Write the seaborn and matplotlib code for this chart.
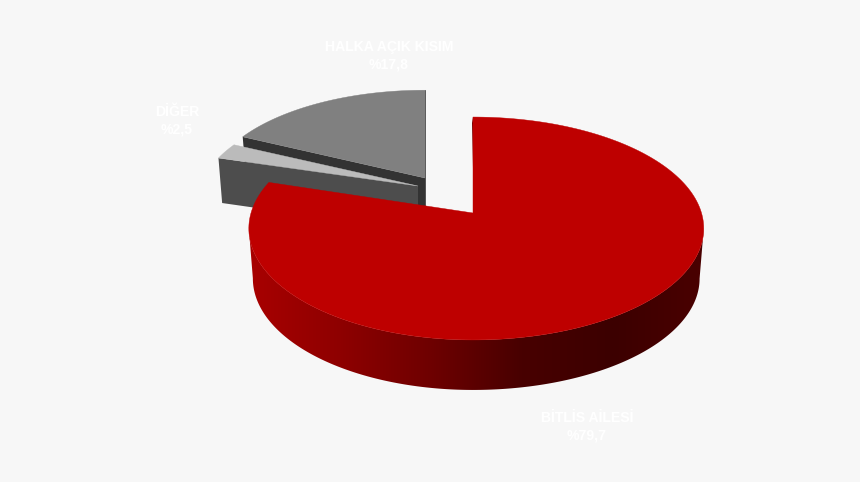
import numpy as np
import matplotlib
matplotlib.use("Agg")
import matplotlib.pyplot as plt
from matplotlib.colors import ListedColormap
from matplotlib.patches import Polygon
import seaborn as sns

# ---- data ----
labels = ["BİTLİS AİLESİ", "DİĞER", "HALKA AÇIK KISIM"]
values = [79.7, 2.5, 17.8]
value_labels = ["%79,7", "%2,5", "%17,8"]

BG = "#F7F7F7"
sns.set_theme(style="white", rc={"figure.facecolor": BG, "axes.facecolor": BG})
plt.rcParams["font.family"] = ["Liberation Sans", "DejaVu Sans"]

fig = plt.figure(figsize=(8.6, 4.82), dpi=100, facecolor=BG)
ax = fig.add_axes([0, 0, 1, 1])
ax.set_xlim(0, 860)
ax.set_ylim(482, 0)
ax.axis("off")

K = 0.139  # perspective strength


def project(theta, radius, apex, a_left, a_right, b):
    """Project polar angle (clockwise from the far side) to the page."""
    X = radius * np.sin(theta)
    Y = radius * np.cos(theta)
    w = 1 + K * Y
    a = np.where(X < 0, a_left, a_right)
    return apex[0] + a * X / w, apex[1] - b * Y / w


def slice_top(t0, t1, **g):
    t = np.linspace(t0, t1, 200)
    x, y = project(t, 1.0, **g)
    return np.column_stack([np.r_[g["apex"][0], x], np.r_[g["apex"][1], y]])


def pts(t, g):
    x, y = project(np.asarray(t, float), 1.0, **g)
    return np.column_stack([x, y])


def shifted(g, dy, scale, dx=0):
    return dict(apex=(g["apex"][0] + dx, g["apex"][1] + dy),
                a_left=g["a_left"] * scale, a_right=g["a_right"] * scale, b=g["b"])


# cumulative angles, clockwise from the top
edges = np.radians(np.r_[0, np.cumsum(values)] * 3.6)
red_t0, red_t1 = edges[0], edges[1]
dig_t0, dig_t1 = edges[1], edges[2]
hal_t0, hal_t1 = edges[2], edges[3]

# ---- HALKA AÇIK KISIM ----
g_h = dict(apex=(425, 178), a_left=215, a_right=215, b=100)
gb_h = shifted(g_h, 45, 0.98)
h0, hb0 = pts([hal_t0], g_h)[0], pts([hal_t0], gb_h)[0]
ax.add_patch(Polygon([g_h["apex"], h0, hb0, gb_h["apex"]], fc="#333333", ec="none", zorder=2))
ax.add_patch(Polygon([g_h["apex"], pts([hal_t1], g_h)[0], pts([hal_t1], gb_h)[0], gb_h["apex"]],
                     fc="#555555", ec="#555555", lw=0.6, zorder=2))
ax.add_patch(Polygon(slice_top(hal_t0, hal_t1, **g_h), fc="#808080", ec="#808080", lw=0.3, zorder=3))

# ---- DİĞER ----
g_d = dict(apex=(418, 186), a_left=217, a_right=217, b=100)
gb_d = dict(apex=(418, 231), a_left=213, a_right=213, b=100)
d0, db0 = pts([dig_t0], g_d)[0], pts([dig_t0], gb_d)[0]
ax.add_patch(Polygon([g_d["apex"], d0, db0, gb_d["apex"]], fc="#4D4D4D", ec="none", zorder=4))
ax.add_patch(Polygon(slice_top(dig_t0, dig_t1, **g_d), fc="#BBBBBB", ec="#BBBBBB", lw=0.3, zorder=5))

# ---- BİTLİS AİLESİ ----
g_r = dict(apex=(473, 213), a_left=222, a_right=228.5, b=109.3)
gb_r = shifted(g_r, 50, 0.982)
ramp = sns.blend_palette(["#A80000", "#8E0000", "#6E0000", "#480000", "#3C0000", "#4A0000"], n_colors=256)
t = np.linspace(red_t0, red_t1, 800)
top, bot = pts(t, g_r), pts(t, gb_r)
xmin, xmax = top[:, 0].min(), top[:, 0].max()
# outer wall: a left-to-right shade clipped to the visible front of the wall
i0, i1 = top[:, 0].argmax(), top[:, 0].argmin()
j0, j1 = bot[:, 0].argmax(), bot[:, 0].argmin()
wall = Polygon(np.vstack([top[i0:i1 + 1], bot[j0:j1 + 1][::-1]]), fc="none", ec="none", zorder=6)
ax.add_patch(wall)
shade = ax.imshow(np.linspace(0, 1, 512)[None, :], cmap=ListedColormap(ramp),
                  extent=(xmin, xmax, top[:, 1].min(), bot[:, 1].max() + 1),
                  origin="lower", aspect="auto", zorder=6, interpolation="bilinear")
shade.set_clip_path(wall)
ax.set_xlim(0, 860)
ax.set_ylim(482, 0)
# thin inner cut wall next to the gap
s = pts([red_t0], g_r)[0]
ax.add_patch(Polygon([s, g_r["apex"], (g_r["apex"][0] + 1, g_r["apex"][1]), (s[0] - 1, s[1] + 6)],
                     fc="#6E0000", ec="none", zorder=7))
ax.add_patch(Polygon(slice_top(red_t0, red_t1, **g_r), fc="#BE0000", ec="#BE0000", lw=0.3, zorder=8))

# ---- labels ----
label_pos = [(587, 426.5), (177, 120.5), (389, 55.5)]
for lab, val, (x, y) in zip(labels, value_labels, label_pos):
    ax.text(x, y, f"{lab}\n{val}", color="white", fontsize=10.1, fontweight="bold",
            ha="center", va="center", linespacing=1.3, zorder=10)

fig.savefig("out.png", dpi=100, facecolor=BG)
